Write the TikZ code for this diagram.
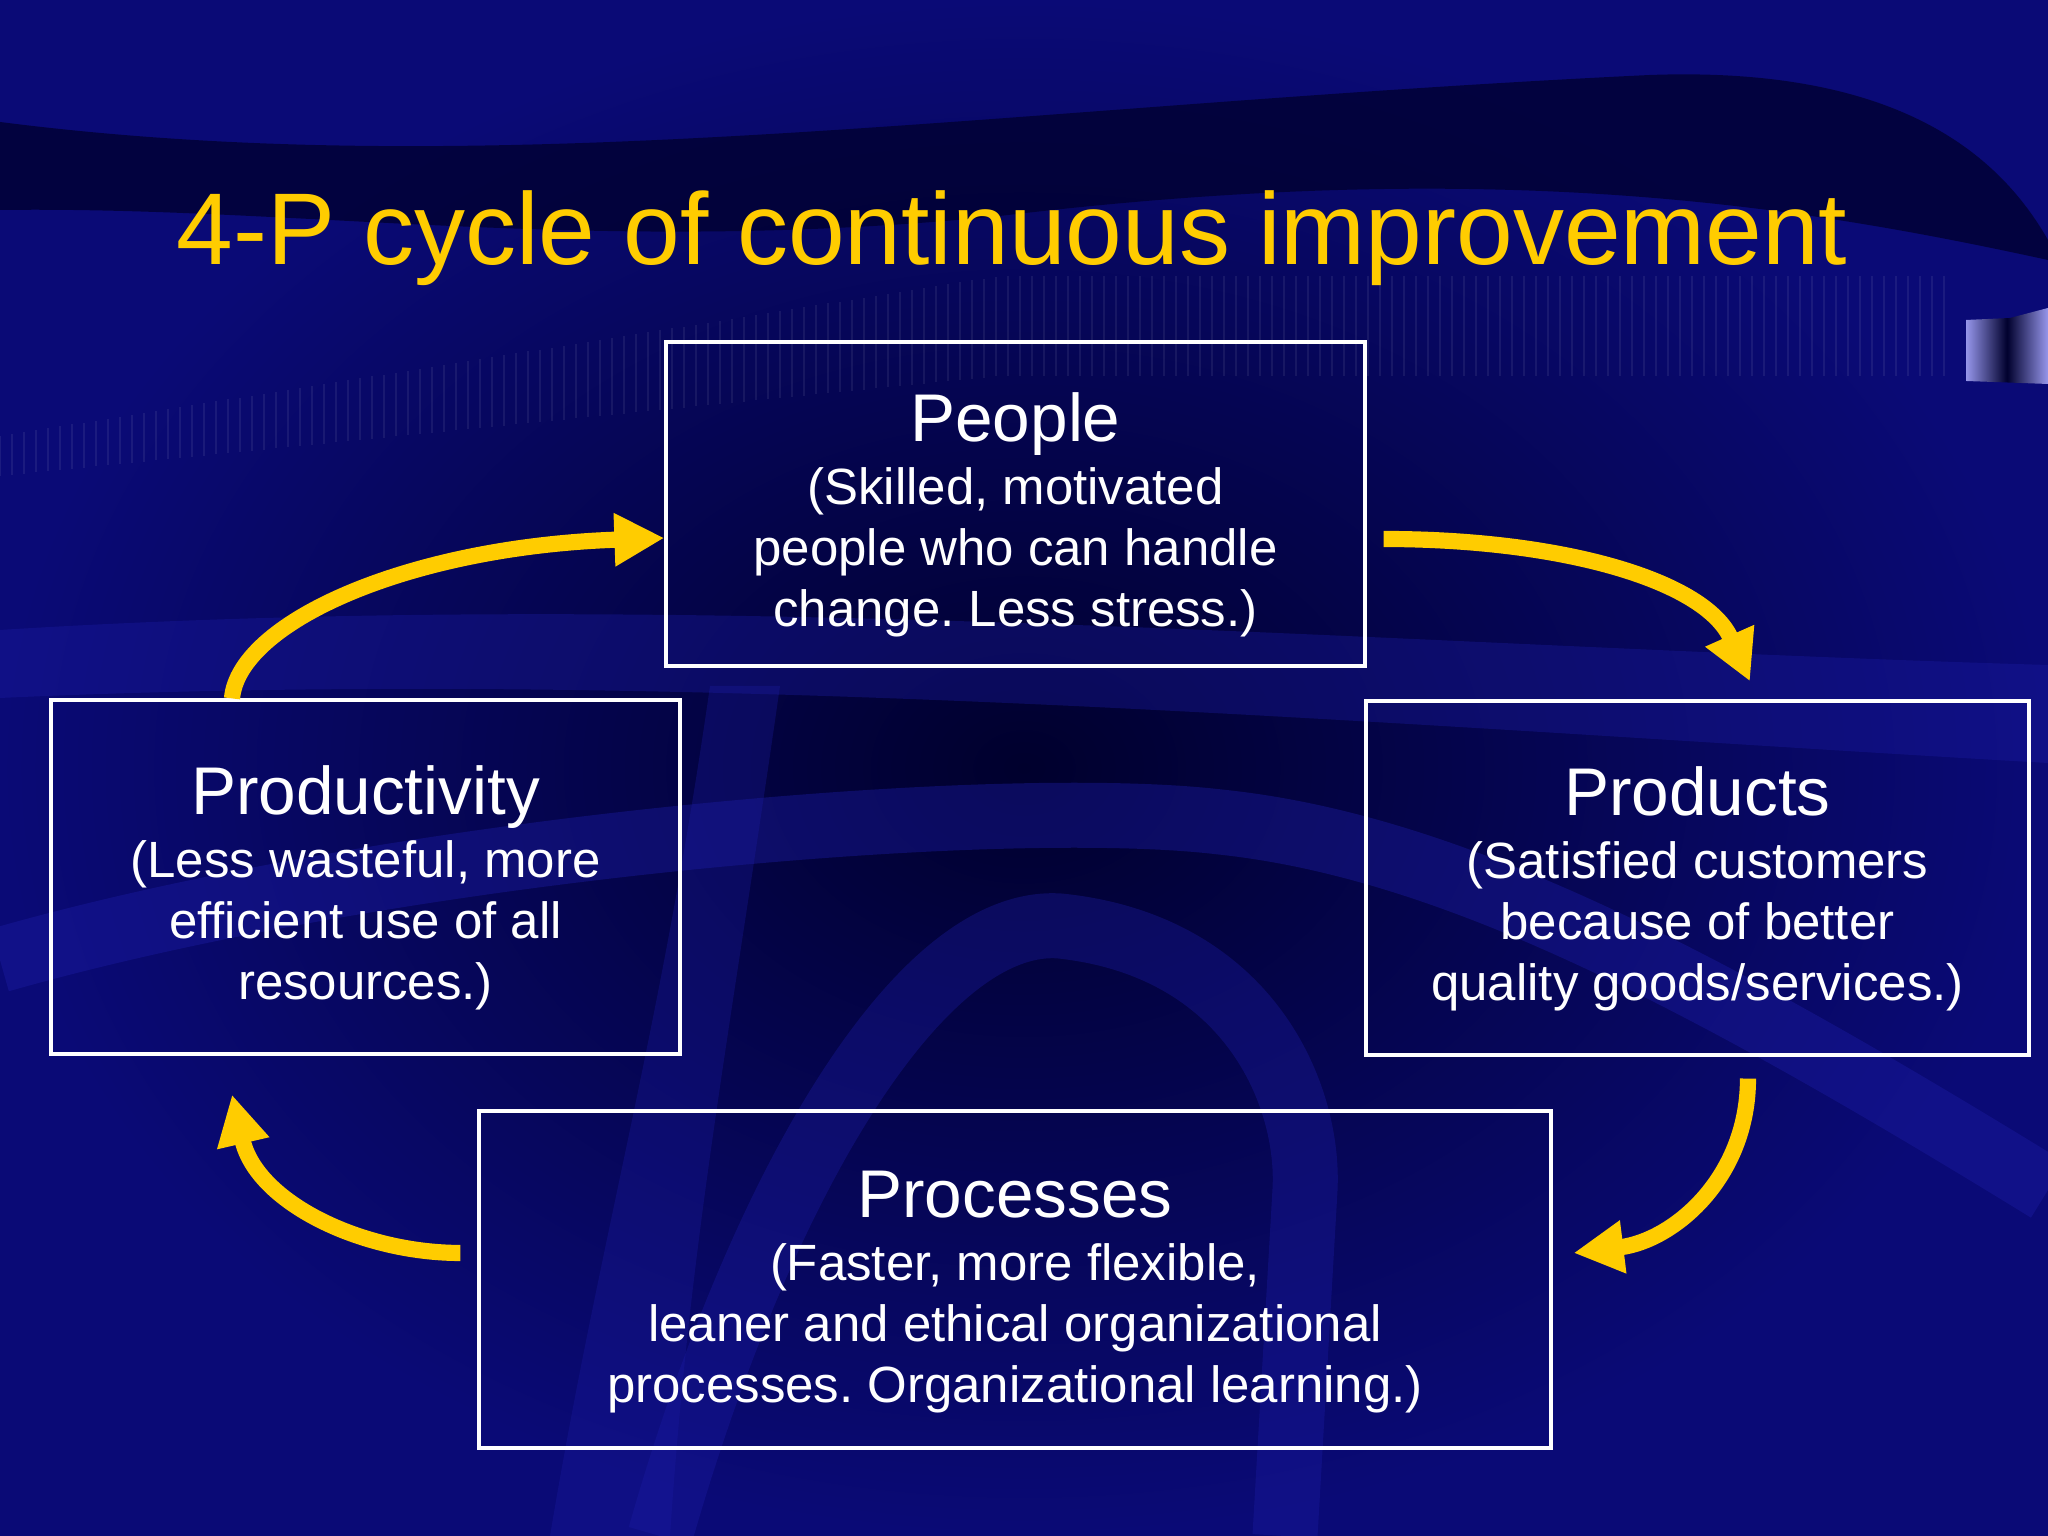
\documentclass[tikz,border=0pt]{standalone}
\usepackage{fontspec}
\setmainfont{Liberation Sans}
\definecolor{slidenavy}{RGB}{10, 10, 118}
\definecolor{slidedark}{RGB}{0, 0, 45}
\definecolor{slidelight}{RGB}{28, 28, 165}
\definecolor{cycleyellow}{RGB}{255, 204, 0}
\definecolor{tablavender}{RGB}{150, 150, 235}
\usetikzlibrary{arrows.meta}

\tikzset{
  pbox/.style={draw=white, line width=0.9pt, text=white, align=center,
    font=\fontsize{14.5}{17.4}\selectfont},
  cyclearrow/.style={draw=cycleyellow, line width=4.6pt,
    -{Triangle[length=0.5cm,width=0.5cm]}},
}
\newcommand{\boxhead}[1]{{\fontsize{19.2}{23}\selectfont\rule{0pt}{20.3pt}#1}\\[0.5pt]}
\frenchspacing

\begin{document}
\begin{tikzpicture}
  \useasboundingbox (0,0) rectangle (20.48,15.36);
  % slide background
  \shade[inner color=slidedark, outer color=slidenavy] (0,0) rectangle (20.48,15.36);
  \fill[slidedark, opacity=0.75] (0,14.14) .. controls (5,13.5) and (10,14.3) .. (16.5,14.61)
    .. controls (19,14.7) and (20,13.8) .. (20.48,12.96)
    -- (20.48,12.76) .. controls (18,13.3) and (15,13.8) .. (10,13.2) .. controls (6,12.8) and (3,13.3) .. (0,13.26) -- cycle;
  \fill[slidelight, opacity=0.35] (0,9.06) .. controls (7,9.5) and (14,8.9) .. (20.48,8.71)
    -- (20.48,7.73) .. controls (14,8.1) and (7,8.7) .. (0,8.38) -- cycle;
  \draw[slidelight, line width=0.65cm, opacity=0.4] (0,5.76) .. controls (4,6.9) and (10,7.4) .. (12.2,7.14)
    .. controls (14.5,6.9) and (17,5.6) .. (20.48,3.46);
  \draw[slidelight, line width=0.65cm, opacity=0.35] (6.6,0) .. controls (7.6,3.5) and (9.2,6.2) .. (10.6,6.1)
    .. controls (12.5,5.9) and (13.1,4.4) .. (13.05,3.46) -- (12.85,0);
  \fill[slidelight, opacity=0.3] (7.1,8.5) -- (7.8,8.5) .. controls (7.3,5) and (6.9,3) .. (6.7,0) -- (5.5,0)
    .. controls (6.0,3) and (6.6,5) .. cycle;
  \foreach \x in {0.0,0.12,...,19.5}
    \draw[white, opacity=0.07, line width=0.5pt] (\x,{10.6+0.1*min(\x,10)}) -- (\x,{11.0+0.16*min(\x,10)});
  \shade[left color=tablavender, right color=tablavender, middle color=slidedark]
    (19.66,12.16) -- (20.1,12.18) -- (20.48,12.28) -- (20.48,11.52) -- (19.66,11.55) -- cycle;

  % title
  \node[text=cycleyellow, font=\fontsize{29}{35}\selectfont, anchor=base] (title) at (10.12,12.71)
    {4-P cycle of continuous improvement};

  % the four P boxes
  \node[pbox, minimum width=6.99cm, minimum height=3.24cm] (people) at (10.155,10.32)
    {\boxhead{People}(Skilled, motivated\\people who can handle\\change. Less stress.)};
  \node[pbox, minimum width=6.63cm, minimum height=3.54cm] (products) at (16.975,6.58)
    {\boxhead{Products}(Satisfied customers\\because of better\\quality goods/services.)};
  \node[pbox, minimum width=10.72cm, minimum height=3.37cm] (processes) at (10.15,2.565)
    {\boxhead{Processes}(Faster, more flexible,\\leaner and ethical organizational\\processes. Organizational learning.)};
  \node[pbox, minimum width=6.29cm, minimum height=3.54cm] (productivity) at (3.655,6.59)
    {\boxhead{Productivity}(Less wasteful, more\\efficient use of all\\resources.)};

  % cycle arrows
  \draw[cyclearrow] ([xshift=-1.335cm]productivity.north) .. controls +(85:0.75) and +(182:2.6) .. ([yshift=-0.34cm]people.west);
  \draw[cyclearrow] ([xshift=0.17cm,yshift=-0.35cm]people.east) .. controls +(0:1.8) and +(114:1.1) .. ([xshift=0.525cm,yshift=0.18cm]products.north);
  \draw[cyclearrow] ([xshift=0.505cm,yshift=-0.22cm]products.south) .. controls +(-90:1.0) and +(7:1.0) .. ([xshift=0.21cm,yshift=0.265cm]processes.east);
  \draw[cyclearrow] ([xshift=-0.17cm,yshift=0.265cm]processes.west) .. controls +(180:1.0) and +(-77:1.1) .. ([xshift=-1.335cm,yshift=-0.39cm]productivity.south);
\end{tikzpicture}
\end{document}
